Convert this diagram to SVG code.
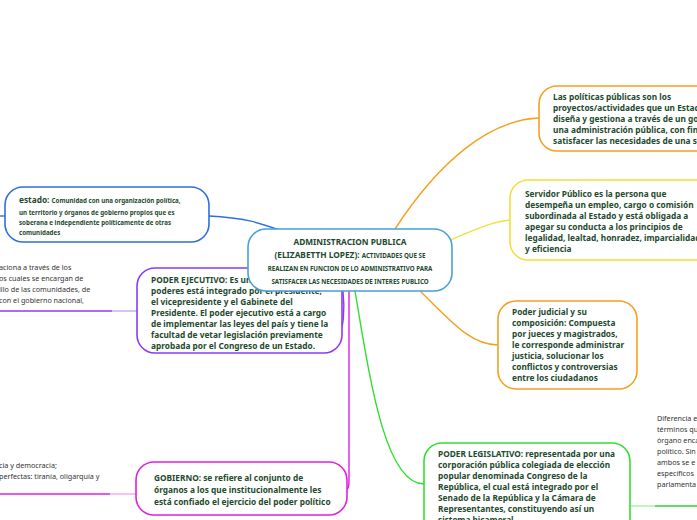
<svg xmlns="http://www.w3.org/2000/svg" width="697" height="520" viewBox="0 0 697 520">
<style>
.n{fill:#fff;stroke-width:1.6}
.t{font-family:"Noto Sans",sans-serif;font-weight:bold;font-size:8.3px;fill:#1d4a2e}
.s{font-family:"Noto Sans",sans-serif;font-weight:bold;font-size:6.2px;fill:#1d4a2e}
.g{font-family:"Noto Sans",sans-serif;font-size:7.2px;fill:#333}
.c{fill:none;stroke-width:1.4}
</style>
<rect width="697" height="520" fill="#fff"/>
<g id="connectors">
<path class="c" stroke="#2f6ee0" d="M209,216 C250,218 265,225 285,232"/>
<path class="c" stroke="#f5a020" d="M395,229 C440,160 490,120 539,118"/>
<path class="c" stroke="#f0e040" d="M450,240 C475,230 490,222 510,220"/>
<path class="c" stroke="#f5a020" d="M420,291 C450,320 470,345 498,345"/>
<path class="c" stroke="#30e030" d="M355,291 C370,380 385,484 424,484"/>
<path class="c" stroke="#e020e0" d="M349,291 L349,480 C349,488 348,490 345,490"/>
<path class="c" stroke="#8a3cf0" d="M343,291 C345,310 343,330 340,330"/>
<path class="c" stroke="#8a3cf0" d="M0,311 L112,311" stroke-width="2.5"/>
<path class="c" stroke="#c8a8f8" d="M112,311 L137,311"/>
<path class="c" stroke="#e020e0" d="M0,494 L110,494" stroke-width="2.5"/>
<path class="c" stroke="#f0a8f0" d="M110,494 L136,494"/>
<path class="c" stroke="#a8f0a8" d="M630,506 L655,506"/>
<path class="c" stroke="#30d030" d="M655,506 L697,506" stroke-width="2.5"/>
<path class="c" stroke="#2f6ee0" d="M0,216 L5,216"/>
</g>
<g id="estado">
<rect class="n" stroke="#2f6ee0" x="5" y="187" width="204" height="55" rx="18"/>
<text x="19" y="203"><tspan class="t">estado: </tspan><tspan class="s">Comunidad  con una organización política,</tspan></text>
<text class="s" x="19" y="215">un territorio y órganos de gobierno propios que es</text>
<text class="s" x="19" y="225">soberana e independiente políticamente de otras</text>
<text class="s" x="19" y="235">comunidades</text>
</g>
<g id="ejecutivo">
<rect class="n" stroke="#8a3cf0" x="137" y="268" width="205" height="85" rx="18"/>
<text class="t" x="151" y="283">PODER EJECUTIVO: Es uno de los tres</text>
<text class="t" x="151" y="294">poderes está integrado por el presidente,</text>
<text class="t" x="151" y="305">el vicepresidente y el Gabinete del</text>
<text class="t" x="151" y="316">Presidente. El poder ejecutivo está a cargo</text>
<text class="t" x="151" y="327">de implementar las leyes del país y tiene la</text>
<text class="t" x="151" y="338">facultad de vetar legislación previamente</text>
<text class="t" x="151" y="349">aprobada por el Congreso de un Estado.</text>
</g>
<g id="central">
<rect class="n" stroke="#4aa0d8" x="248" y="229" width="204" height="62" rx="18"/>
<text class="t" x="350" y="245" text-anchor="middle" font-size="10px" fill="#111">ADMINISTRACION PUBLICA</text>
<text x="350" y="258" text-anchor="middle"><tspan class="t" font-size="10px" fill="#111">(ELIZABETTH LOPEZ): </tspan><tspan class="s" font-size="5.3px">ACTIVIDADES QUE SE</tspan></text>
<text class="s" x="350" y="271" text-anchor="middle" font-size="5.3px" fill="#111">REALIZAN EN FUNCION DE LO ADMINISTRATIVO PARA</text>
<text class="s" x="350" y="284" text-anchor="middle" font-size="5.3px" fill="#111">SATISFACER LAS NECESIDADES DE INTERES PUBLICO</text>
</g>
<g id="politicas">
<rect class="n" stroke="#f5a020" x="539" y="86" width="180" height="65" rx="18"/>
<text class="t" x="553" y="100">Las políticas públicas son los</text>
<text class="t" x="553" y="111">proyectos/actividades que un Estado</text>
<text class="t" x="553" y="122">diseña y gestiona a través de un gobierno y</text>
<text class="t" x="553" y="133">una administración pública, con fines de</text>
<text class="t" x="553" y="144">satisfacer las necesidades de una sociedad</text>
</g>
<g id="servidor">
<rect class="n" stroke="#f0e040" x="510" y="180" width="210" height="80" rx="18"/>
<text class="t" x="525" y="197">Servidor Público es la persona que</text>
<text class="t" x="525" y="208">desempeña un empleo, cargo o comisión</text>
<text class="t" x="525" y="219">subordinada al Estado y está obligada a</text>
<text class="t" x="525" y="230">apegar su conducta a los principios de</text>
<text class="t" x="525" y="241">legalidad, lealtad, honradez, imparcialidad</text>
<text class="t" x="525" y="252">y eficiencia</text>
</g>
<g id="judicial">
<rect class="n" stroke="#f5a020" x="498" y="301" width="139" height="88" rx="18"/>
<text class="t" x="512" y="315">Poder judicial y su</text>
<text class="t" x="512" y="326">composición: Compuesta</text>
<text class="t" x="512" y="337">por jueces y magistrados,</text>
<text class="t" x="512" y="348">le corresponde administrar</text>
<text class="t" x="512" y="359">justicia, solucionar los</text>
<text class="t" x="512" y="370">conflictos y controversias</text>
<text class="t" x="512" y="381">entre los ciudadanos</text>
</g>
<g id="legislativo">
<rect class="n" stroke="#30e030" x="424" y="443" width="206" height="95" rx="18"/>
<text class="t" x="438" y="457">PODER LEGISLATIVO: representada por una</text>
<text class="t" x="438" y="468">corporación pública colegiada de elección</text>
<text class="t" x="438" y="479">popular denominada Congreso de la</text>
<text class="t" x="438" y="490">República, el cual está integrado por el</text>
<text class="t" x="438" y="501">Senado de la República y la Cámara de</text>
<text class="t" x="438" y="512">Representantes, constituyendo así un</text>
<text class="t" x="438" y="523">sistema bicameral</text>
</g>
<g id="gobierno">
<rect class="n" stroke="#e020e0" x="136" y="462" width="211" height="53" rx="18"/>
<text class="t" x="154" y="481">GOBIERNO:  se refiere al conjunto de</text>
<text class="t" x="154" y="493">órganos a los que institucionalmente les</text>
<text class="t" x="154" y="505">está confiado el ejercicio del poder político</text>
</g>
<g id="notes">
<text class="g" x="-1" y="270">aciona a través de los</text>
<text class="g" x="-1" y="281">os cuales se encargan de</text>
<text class="g" x="-1" y="292">illo de las comunidades, de</text>
<text class="g" x="-1" y="303">con el gobierno nacional,</text>
<text class="g" x="-1" y="468">cia y democracia;</text>
<text class="g" x="-1" y="479">perfectas: tiranía, oligarquía y</text>
<text class="g" x="657" y="421">Diferencia e</text>
<text class="g" x="657" y="432">términos qu</text>
<text class="g" x="657" y="443">órgano enca</text>
<text class="g" x="657" y="454">político. Sin</text>
<text class="g" x="657" y="465">ambos se e</text>
<text class="g" x="657" y="476">específicos</text>
<text class="g" x="657" y="487">parlamenta</text>
</g>
</svg>
